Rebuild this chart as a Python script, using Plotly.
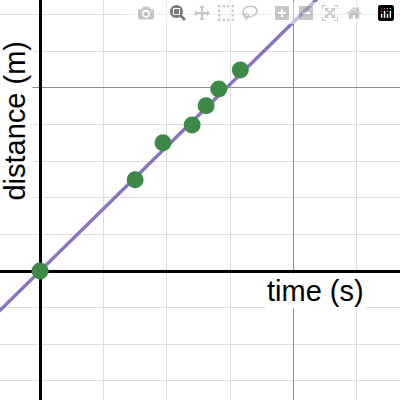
import plotly.graph_objects as go

# data
time_s = [0, 0.75, 0.97, 1.2, 1.31, 1.41, 1.58]
distance_m = [0, 2.49, 3.5, 3.99, 4.51, 4.97, 5.49]
slope = 3.4
line_x = [-0.4, 2.9]
line_y = [slope * v for v in line_x]

fig = go.Figure()
fig.add_trace(go.Scatter(x=line_x, y=line_y, mode="lines",
                         line=dict(color="#8a74c0", width=3.5), hoverinfo="skip"))
fig.add_trace(go.Scatter(x=time_s, y=distance_m, mode="markers",
                         marker=dict(color="#3d8a47", size=17), hoverinfo="skip"))

ax = dict(showticklabels=False, ticks="", zeroline=True, zerolinecolor="black",
          zerolinewidth=2.5, gridcolor="#8c8c8c", gridwidth=1,
          minor=dict(gridcolor="#dddddd", gridwidth=1, showgrid=True))
fig.update_layout(
    width=400, height=400, margin=dict(l=0, r=0, t=0, b=0, pad=0),
    plot_bgcolor="white", paper_bgcolor="white", showlegend=False,
    xaxis=dict(ax, range=[-0.316, 2.84], dtick=2, minor_dtick=0.5),
    yaxis=dict(ax, range=[-3.52, 7.40], dtick=5, minor_dtick=1),
    font=dict(family="Arial, Liberation Sans", color="black"),
    annotations=[
        dict(x=2.17, y=-0.55, xref="x", yref="y", text="time (s)", showarrow=False,
             font=dict(size=29), bgcolor="white"),
        dict(x=-0.2, y=4.1, xref="x", yref="y", text="distance (m)", showarrow=False,
             textangle=-90, font=dict(size=29), bgcolor="white"),
    ],
)
fig.write_html("out.html", post_script="document.body.style.margin='0';")
